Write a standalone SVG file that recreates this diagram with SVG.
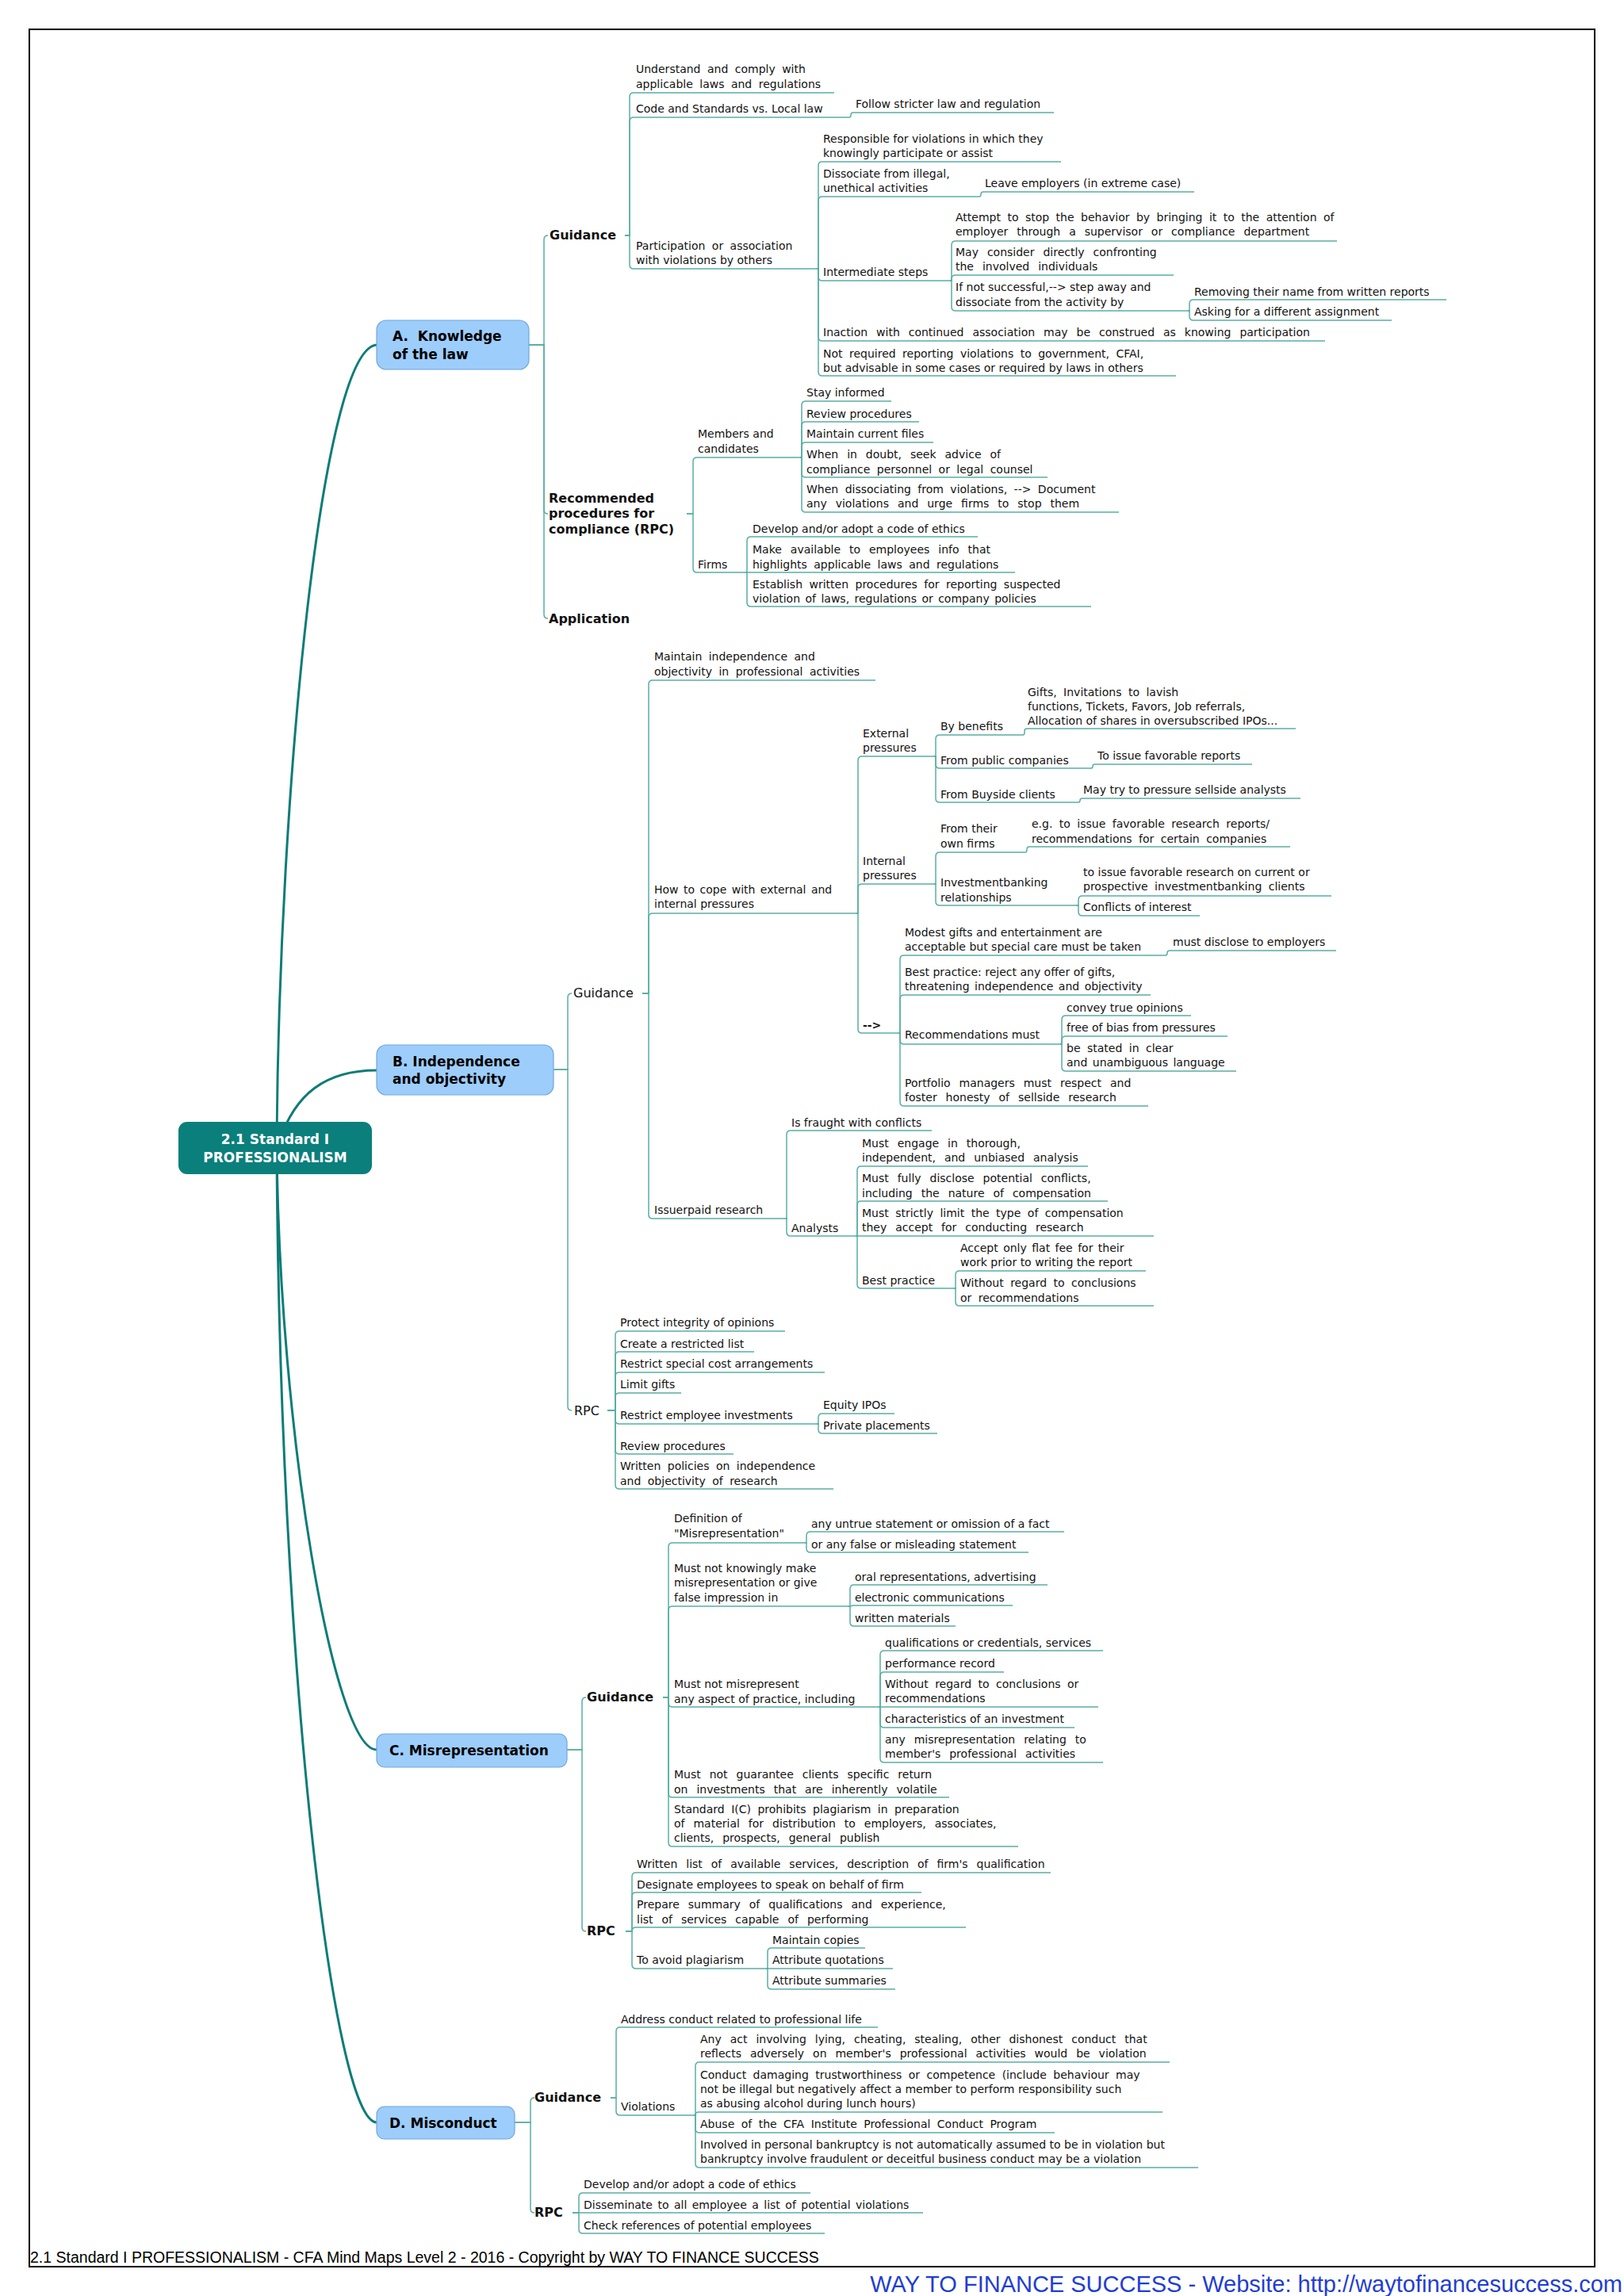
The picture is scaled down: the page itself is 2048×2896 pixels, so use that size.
<svg xmlns="http://www.w3.org/2000/svg" width="2048" height="2896" viewBox="0 0 2048 2896">
<style>
.t{font-family:"DejaVu Sans",Verdana,sans-serif;font-size:14px;fill:#111}
.b{font-weight:bold}
.h{font-size:16px}
.w2{word-spacing:2px}
.w4{word-spacing:4px}
.w6{word-spacing:6.5px}
.cn{fill:none;stroke:#5aaea3;stroke-width:1.5}
.mc{fill:none;stroke:#0d7c77;stroke-width:3;stroke-linecap:round}
.nd{fill:#9dcdfa;stroke:#6fa8dc;stroke-width:1.2}
.nt{font-family:"DejaVu Sans",Verdana,sans-serif;font-size:17px;font-weight:bold;fill:#000}
.ft{font-family:"Liberation Sans",Arial,sans-serif}
</style>
<rect x="0" y="0" width="2048" height="2896" fill="#fff"/>
<rect x="37" y="37" width="1974" height="2822" fill="none" stroke="#000" stroke-width="2"/>

<g id="connectors">
<g id="main-branches">
<path class="mc" d="M349,1440 C352,1000 405,440 475,435"/>
<path class="mc" d="M352,1440 C372,1380 410,1350 475,1350"/>
<path class="mc" d="M349,1447 C352,1800 420,2207 475,2207"/>
<path class="mc" d="M349,1447 C352,2100 420,2677 475,2677"/>
</g>
<g id="branch-a">
<path class="cn" d="M667,435 H686 V302 Q686,297 691,297"/>
<path class="cn" d="M667,435 H686 V643 Q686,648 691,648"/>
<path class="cn" d="M667,435 H686 V775 Q686,780 691,780"/>
<path class="cn" d="M788,297 H794 V122 Q794,117 799,117 H1052"/>
<path class="cn" d="M788,297 H794 V153 Q794,148 799,148 H1071"/>
<path class="cn" d="M788,297 H794 V334 Q794,339 799,339 H1030"/>
<path class="cn" d="M1071,148 Q1073,148 1073,145 Q1073,142 1076,142 H1329"/>
<path class="cn" d="M1030,339 H1032 V209 Q1032,204 1037,204 H1338"/>
<path class="cn" d="M1030,339 H1032 V253 Q1032,248 1037,248 H1235"/>
<path class="cn" d="M1030,339 H1032 V349 Q1032,354 1037,354 H1198"/>
<path class="cn" d="M1030,339 H1032 V425 Q1032,430 1037,430 H1671"/>
<path class="cn" d="M1030,339 H1032 V469 Q1032,474 1037,474 H1483"/>
<path class="cn" d="M1235,248 Q1237,248 1237,245 Q1237,242 1240,242 H1506"/>
<path class="cn" d="M1198,354 H1200 V309 Q1200,304 1205,304 H1686"/>
<path class="cn" d="M1198,354 H1200 V352 Q1200,347 1205,347 H1480"/>
<path class="cn" d="M1198,354 H1200 V387 Q1200,392 1205,392 H1498"/>
<path class="cn" d="M1498,392 H1500 V383 Q1500,378 1505,378 H1824"/>
<path class="cn" d="M1498,392 H1500 V399 Q1500,404 1505,404 H1755"/>
<path class="cn" d="M866,648 H874 V582 Q874,577 879,577 H1009"/>
<path class="cn" d="M866,648 H874 V717 Q874,722 879,722 H940"/>
<path class="cn" d="M1009,577 H1011 V511 Q1011,506 1016,506 H1124"/>
<path class="cn" d="M1009,577 H1011 V537 Q1011,532 1016,532 H1159"/>
<path class="cn" d="M1009,577 H1011 V563 Q1011,558 1016,558 H1177"/>
<path class="cn" d="M1009,577 H1011 V597 Q1011,602 1016,602 H1321"/>
<path class="cn" d="M1009,577 H1011 V641 Q1011,646 1016,646 H1411"/>
<path class="cn" d="M940,722 H942 V682 Q942,677 947,677 H1233"/>
<path class="cn" d="M940,722 H1280"/>
<path class="cn" d="M940,722 H942 V760 Q942,765 947,765 H1376"/>
</g>
<g id="branch-b">
<path class="cn" d="M698,1349 H716 V1258 Q716,1253 721,1253"/>
<path class="cn" d="M698,1349 H716 V1774 Q716,1779 721,1779"/>
<path class="cn" d="M810,1253 H818 V863 Q818,858 823,858 H1104"/>
<path class="cn" d="M810,1253 H818 V1157 Q818,1152 823,1152 H1080"/>
<path class="cn" d="M810,1253 H818 V1532 Q818,1537 823,1537 H990"/>
<path class="cn" d="M1080,1152 H1082 V959 Q1082,954 1087,954 H1178"/>
<path class="cn" d="M1080,1152 H1082 V1120 Q1082,1115 1087,1115 H1178"/>
<path class="cn" d="M1080,1152 H1082 V1298 Q1082,1303 1087,1303 H1133"/>
<path class="cn" d="M1178,954 H1180 V932 Q1180,927 1185,927 H1290"/>
<path class="cn" d="M1178,954 H1180 V964 Q1180,969 1185,969 H1376"/>
<path class="cn" d="M1178,954 H1180 V1007 Q1180,1012 1185,1012 H1360"/>
<path class="cn" d="M1290,927 Q1292,927 1292,924 V922 Q1292,919 1295,919 H1634"/>
<path class="cn" d="M1376,969 Q1378,969 1378,966.5 Q1378,964 1381,964 H1579"/>
<path class="cn" d="M1360,1012 Q1362,1012 1362,1009.5 Q1362,1007 1365,1007 H1640"/>
<path class="cn" d="M1178,1115 H1180 V1080 Q1180,1075 1185,1075 H1293"/>
<path class="cn" d="M1178,1115 H1180 V1137 Q1180,1142 1185,1142 H1357"/>
<path class="cn" d="M1293,1075 Q1295,1075 1295,1071.5 Q1295,1068 1298,1068 H1627"/>
<path class="cn" d="M1357,1142 H1360 V1135 Q1360,1130 1365,1130 H1679"/>
<path class="cn" d="M1357,1142 H1360 V1150 Q1360,1155 1365,1155 H1513"/>
<path class="cn" d="M1133,1303 H1135 V1210 Q1135,1205 1140,1205 H1470"/>
<path class="cn" d="M1133,1303 H1135 V1260 Q1135,1255 1140,1255 H1451"/>
<path class="cn" d="M1133,1303 H1135 V1312 Q1135,1317 1140,1317 H1337"/>
<path class="cn" d="M1133,1303 H1135 V1390 Q1135,1395 1140,1395 H1448"/>
<path class="cn" d="M1470,1205 Q1472,1205 1472,1202 Q1472,1199 1475,1199 H1685"/>
<path class="cn" d="M1337,1317 H1339 V1286 Q1339,1281 1344,1281 H1502"/>
<path class="cn" d="M1337,1317 H1339 V1312 Q1339,1307 1344,1307 H1548"/>
<path class="cn" d="M1337,1317 H1339 V1346 Q1339,1351 1344,1351 H1559"/>
<path class="cn" d="M990,1537 H992 V1431 Q992,1426 997,1426 H1175"/>
<path class="cn" d="M990,1537 H992 V1554 Q992,1559 997,1559 H1079"/>
<path class="cn" d="M1079,1559 H1081 V1476 Q1081,1471 1086,1471 H1372"/>
<path class="cn" d="M1079,1559 H1081 V1520 Q1081,1515 1086,1515 H1397"/>
<path class="cn" d="M1079,1559 H1455"/>
<path class="cn" d="M1079,1559 H1081 V1620 Q1081,1625 1086,1625 H1203"/>
<path class="cn" d="M1203,1625 H1205 V1608 Q1205,1603 1210,1603 H1445"/>
<path class="cn" d="M1203,1625 H1205 V1642 Q1205,1647 1210,1647 H1455"/>
<path class="cn" d="M766,1779 H776 V1684 Q776,1679 781,1679 H990"/>
<path class="cn" d="M766,1779 H776 V1710 Q776,1705 781,1705 H951"/>
<path class="cn" d="M766,1779 H776 V1736 Q776,1731 781,1731 H1040"/>
<path class="cn" d="M766,1779 H776 V1762 Q776,1757 781,1757 H859"/>
<path class="cn" d="M766,1779 H776 V1791 Q776,1796 781,1796 H1030"/>
<path class="cn" d="M766,1779 H776 V1829 Q776,1834 781,1834 H925"/>
<path class="cn" d="M766,1779 H776 V1873 Q776,1878 781,1878 H1051"/>
<path class="cn" d="M1030,1796 H1032 V1788 Q1032,1783 1037,1783 H1128"/>
<path class="cn" d="M1030,1796 H1032 V1803 Q1032,1808 1037,1808 H1182"/>
</g>
<g id="branch-c">
<path class="cn" d="M715,2207 H734 V2146 Q734,2141 739,2141"/>
<path class="cn" d="M715,2207 H734 V2431 Q734,2436 739,2436"/>
<path class="cn" d="M836,2141 H843 V1951 Q843,1946 848,1946 H1015"/>
<path class="cn" d="M836,2141 H843 V2031 Q843,2026 848,2026 H1070"/>
<path class="cn" d="M836,2141 H843 V2148 Q843,2153 848,2153 H1108"/>
<path class="cn" d="M836,2141 H843 V2262 Q843,2267 848,2267 H1197"/>
<path class="cn" d="M836,2141 H843 V2324 Q843,2329 848,2329 H1284"/>
<path class="cn" d="M1015,1946 H1017 V1937 Q1017,1932 1022,1932 H1342"/>
<path class="cn" d="M1015,1946 H1017 V1953 Q1017,1958 1022,1958 H1297"/>
<path class="cn" d="M1070,2026 H1072 V2004 Q1072,1999 1077,1999 H1321"/>
<path class="cn" d="M1070,2026 H1072 L1076,2025 H1277"/>
<path class="cn" d="M1070,2026 H1072 V2046 Q1072,2051 1077,2051 H1205"/>
<path class="cn" d="M1108,2153 H1110 V2087 Q1110,2082 1115,2082 H1391"/>
<path class="cn" d="M1108,2153 H1110 V2114 Q1110,2109 1115,2109 H1266"/>
<path class="cn" d="M1108,2153 H1385"/>
<path class="cn" d="M1108,2153 H1110 V2174 Q1110,2179 1115,2179 H1355"/>
<path class="cn" d="M1108,2153 H1110 V2218 Q1110,2223 1115,2223 H1391"/>
<path class="cn" d="M789,2436 H797 V2367 Q797,2362 802,2362 H1325"/>
<path class="cn" d="M789,2436 H797 V2392 Q797,2387 802,2387 H1162"/>
<path class="cn" d="M789,2436 H797 Q797,2431 802,2431 H1218"/>
<path class="cn" d="M789,2436 H797 V2478 Q797,2483 802,2483 H966"/>
<path class="cn" d="M966,2483 H968 V2462 Q968,2457 973,2457 H1091"/>
<path class="cn" d="M966,2483 H1126"/>
<path class="cn" d="M966,2483 H968 V2504 Q968,2509 973,2509 H1129"/>
</g>
<g id="branch-d">
<path class="cn" d="M649,2677 H669 V2651 Q669,2646 674,2646"/>
<path class="cn" d="M649,2677 H669 V2786 Q669,2791 674,2791"/>
<path class="cn" d="M770,2646 H777 V2562 Q777,2557 782,2557 H1107"/>
<path class="cn" d="M770,2646 H777 V2663 Q777,2668 782,2668 H875"/>
<path class="cn" d="M875,2668 H877 V2606 Q877,2601 882,2601 H1475"/>
<path class="cn" d="M875,2668 H877 Q877,2664 881,2664 H1466"/>
<path class="cn" d="M875,2668 H877 V2685 Q877,2690 882,2690 H1330"/>
<path class="cn" d="M875,2668 H877 V2729 Q877,2734 882,2734 H1511"/>
<path class="cn" d="M722,2791 H730 V2771 Q730,2766 735,2766 H1022"/>
<path class="cn" d="M722,2791 H1164"/>
<path class="cn" d="M722,2791 H730 V2812 Q730,2817 735,2817 H1040"/>
</g>
</g>

<g id="root">
<rect x="225" y="1415" width="244" height="66" rx="11" fill="#0b7f7b"/>
<text font-family="DejaVu Sans,Verdana,sans-serif" font-size="17" font-weight="bold" fill="#fff" text-anchor="middle"><tspan x="347" y="1443">2.1 Standard I</tspan><tspan x="347" y="1466">PROFESSIONALISM</tspan></text>
</g>
<g id="topic-a">
<rect class="nd" x="475" y="404" width="192" height="62" rx="12"/>
<text class="nt"><tspan x="495" y="430">A.&#160; Knowledge</tspan><tspan x="495" y="453">of the law</tspan></text>
</g>
<g id="topic-b">
<rect class="nd" x="475" y="1318" width="223" height="63" rx="12"/>
<text class="nt"><tspan x="495" y="1345">B. Independence</tspan><tspan x="495" y="1367">and objectivity</tspan></text>
</g>
<g id="topic-c">
<rect class="nd" x="475" y="2187" width="240" height="42" rx="10"/>
<text class="nt" x="491" y="2214">C. Misrepresentation</text>
</g>
<g id="topic-d">
<rect class="nd" x="475" y="2657" width="174" height="41" rx="10"/>
<text class="nt" x="491" y="2684">D. Misconduct</text>
</g>

<!-- Section A -->
<g id="a-guidance"><text class="t b h" x="693" y="302">Guidance</text></g>
<g id="a-rpc"><text class="t b h"><tspan x="692" y="634">Recommended</tspan><tspan x="692" y="653">procedures for</tspan><tspan x="692" y="673">compliance (RPC)</tspan></text></g>
<g id="a-application"><text class="t b h" x="692" y="786">Application</text></g>
<g id="a-g1"><text class="t w4"><tspan x="802" y="92">Understand and comply with</tspan><tspan x="802" y="111">applicable laws and regulations</tspan></text></g>
<g id="a-g2"><text class="t" x="802" y="142">Code and Standards vs. Local law</text></g>
<g id="a-g2a"><text class="t" x="1079" y="136">Follow stricter law and regulation</text></g>
<g id="a-g3"><text class="t"><tspan class="w4" x="802" y="315">Participation or association</tspan><tspan x="802" y="333">with violations by others</tspan></text></g>
<g id="a-g3a"><text class="t"><tspan x="1038" y="180">Responsible for violations in which they</tspan><tspan x="1038" y="198">knowingly participate or assist</tspan></text></g>
<g id="a-g3b"><text class="t"><tspan x="1038" y="224">Dissociate from illegal,</tspan><tspan x="1038" y="242">unethical activities</tspan></text></g>
<g id="a-g3b1"><text class="t" x="1242" y="236">Leave employers (in extreme case)</text></g>
<g id="a-g3c"><text class="t" x="1038" y="348">Intermediate steps</text></g>
<g id="a-g3c1"><text class="t"><tspan class="w4" x="1205" y="279">Attempt to stop the behavior by bringing it to the attention of</tspan><tspan class="w6" x="1205" y="297">employer through a supervisor or compliance department</tspan></text></g>
<g id="a-g3c2"><text class="t w6"><tspan x="1205" y="323">May consider directly confronting</tspan><tspan x="1205" y="341">the involved individuals</tspan></text></g>
<g id="a-g3c3"><text class="t"><tspan x="1205" y="367">If not successful,--&gt; step away and</tspan><tspan x="1205" y="386">dissociate from the activity by</tspan></text></g>
<g id="a-g3c3a"><text class="t" x="1506" y="373">Removing their name from written reports</text></g>
<g id="a-g3c3b"><text class="t" x="1506" y="398">Asking for a different assignment</text></g>
<g id="a-g3d"><text class="t w6" x="1038" y="424">Inaction with continued association may be construed as knowing participation</text></g>
<g id="a-g3e"><text class="t"><tspan class="w4" x="1038" y="451">Not required reporting violations to government, CFAI,</tspan><tspan x="1038" y="469">but advisable in some cases or required by laws in others</tspan></text></g>
<g id="a-r1"><text class="t"><tspan x="880" y="552">Members and</tspan><tspan x="880" y="571">candidates</tspan></text></g>
<g id="a-r1a"><text class="t" x="1017" y="500">Stay informed</text></g>
<g id="a-r1b"><text class="t" x="1017" y="527">Review procedures</text></g>
<g id="a-r1c"><text class="t" x="1017" y="552">Maintain current files</text></g>
<g id="a-r1d"><text class="t"><tspan class="w6" x="1017" y="578">When in doubt, seek advice of</tspan><tspan class="w4" x="1017" y="597">compliance personnel or legal counsel</tspan></text></g>
<g id="a-r1e"><text class="t"><tspan class="w4" x="1017" y="622">When dissociating from violations, --&gt; Document</tspan><tspan class="w6" x="1017" y="640">any violations and urge firms to stop them</tspan></text></g>
<g id="a-r2"><text class="t" x="880" y="717">Firms</text></g>
<g id="a-r2a"><text class="t" x="949" y="672">Develop and/or adopt a code of ethics</text></g>
<g id="a-r2b"><text class="t"><tspan class="w6" x="949" y="698">Make available to employees info that</tspan><tspan class="w4" x="949" y="717">highlights applicable laws and regulations</tspan></text></g>
<g id="a-r2c"><text class="t"><tspan class="w4" x="949" y="742">Establish written procedures for reporting suspected</tspan><tspan class="w2" x="949" y="760">violation of laws, regulations or company policies</tspan></text></g>

<!-- Section B -->
<g id="b-guidance"><text class="t h" x="723" y="1258">Guidance</text></g>
<g id="b-rpc"><text class="t h" x="724" y="1785">RPC</text></g>
<g id="b-g1"><text class="t w4"><tspan x="825" y="833">Maintain independence and</tspan><tspan x="825" y="852">objectivity in professional activities</tspan></text></g>
<g id="b-g2"><text class="t"><tspan class="w2" x="825" y="1127">How to cope with external and</tspan><tspan x="825" y="1145">internal pressures</tspan></text></g>
<g id="b-g2a"><text class="t"><tspan x="1088" y="930">External</tspan><tspan x="1088" y="948">pressures</tspan></text></g>
<g id="b-g2a1"><text class="t" x="1186" y="921">By benefits</text></g>
<g id="b-g2a1a"><text class="t"><tspan class="w4" x="1296" y="878">Gifts, Invitations to lavish</tspan><tspan x="1296" y="896">functions, Tickets, Favors, Job referrals,</tspan><tspan x="1296" y="914">Allocation of shares in oversubscribed IPOs...</tspan></text></g>
<g id="b-g2a2"><text class="t" x="1186" y="964">From public companies</text></g>
<g id="b-g2a2a"><text class="t" x="1384" y="958">To issue favorable reports</text></g>
<g id="b-g2a3"><text class="t" x="1186" y="1007">From Buyside clients</text></g>
<g id="b-g2a3a"><text class="t" x="1366" y="1001">May try to pressure sellside analysts</text></g>
<g id="b-g2b"><text class="t"><tspan x="1088" y="1091">Internal</tspan><tspan x="1088" y="1109">pressures</tspan></text></g>
<g id="b-g2b1"><text class="t"><tspan x="1186" y="1050">From their</tspan><tspan x="1186" y="1069">own firms</tspan></text></g>
<g id="b-g2b1a"><text class="t w4"><tspan x="1301" y="1044">e.g. to issue favorable research reports/</tspan><tspan x="1301" y="1063">recommendations for certain companies</tspan></text></g>
<g id="b-g2b2"><text class="t"><tspan x="1186" y="1118">Investmentbanking</tspan><tspan x="1186" y="1137">relationships</tspan></text></g>
<g id="b-g2b2a"><text class="t"><tspan x="1366" y="1105">to issue favorable research on current or</tspan><tspan class="w4" x="1366" y="1123">prospective investmentbanking clients</tspan></text></g>
<g id="b-g2b2b"><text class="t" x="1366" y="1149">Conflicts of interest</text></g>
<g id="b-g2c"><text class="t b" x="1088" y="1298">--&gt;</text></g>
<g id="b-g2c1"><text class="t"><tspan x="1141" y="1181">Modest gifts and entertainment are</tspan><tspan x="1141" y="1199">acceptable but special care must be taken</tspan></text></g>
<g id="b-g2c1a"><text class="t" x="1479" y="1193">must disclose to employers</text></g>
<g id="b-g2c2"><text class="t"><tspan x="1141" y="1231">Best practice: reject any offer of gifts,</tspan><tspan class="w2" x="1141" y="1249">threatening independence and objectivity</tspan></text></g>
<g id="b-g2c3"><text class="t" x="1141" y="1310">Recommendations must</text></g>
<g id="b-g2c3a"><text class="t" x="1345" y="1276">convey true opinions</text></g>
<g id="b-g2c3b"><text class="t" x="1345" y="1301">free of bias from pressures</text></g>
<g id="b-g2c3c"><text class="t"><tspan class="w4" x="1345" y="1327">be stated in clear</tspan><tspan class="w2" x="1345" y="1345">and unambiguous language</tspan></text></g>
<g id="b-g2c4"><text class="t w6"><tspan x="1141" y="1371">Portfolio managers must respect and</tspan><tspan x="1141" y="1389">foster honesty of sellside research</tspan></text></g>
<g id="b-g3"><text class="t" x="825" y="1531">Issuerpaid research</text></g>
<g id="b-g3a"><text class="t" x="998" y="1421">Is fraught with conflicts</text></g>
<g id="b-g3b"><text class="t" x="998" y="1554">Analysts</text></g>
<g id="b-g3b1"><text class="t w6"><tspan x="1087" y="1447">Must engage in thorough,</tspan><tspan x="1087" y="1465">independent, and unbiased analysis</tspan></text></g>
<g id="b-g3b2"><text class="t w6"><tspan x="1087" y="1491">Must fully disclose potential conflicts,</tspan><tspan x="1087" y="1510">including the nature of compensation</tspan></text></g>
<g id="b-g3b3"><text class="t"><tspan class="w4" x="1087" y="1535">Must strictly limit the type of compensation</tspan><tspan class="w6" x="1087" y="1553">they accept for conducting research</tspan></text></g>
<g id="b-g3b4"><text class="t" x="1087" y="1620">Best practice</text></g>
<g id="b-g3b4a"><text class="t"><tspan class="w2" x="1211" y="1579">Accept only flat fee for their</tspan><tspan x="1211" y="1597">work prior to writing the report</tspan></text></g>
<g id="b-g3b4b"><text class="t w4"><tspan x="1211" y="1623">Without regard to conclusions</tspan><tspan x="1211" y="1642">or recommendations</tspan></text></g>
<g id="b-r1"><text class="t" x="782" y="1673">Protect integrity of opinions</text></g>
<g id="b-r2"><text class="t" x="782" y="1700">Create a restricted list</text></g>
<g id="b-r3"><text class="t" x="782" y="1725">Restrict special cost arrangements</text></g>
<g id="b-r4"><text class="t" x="782" y="1751">Limit gifts</text></g>
<g id="b-r5"><text class="t" x="782" y="1790">Restrict employee investments</text></g>
<g id="b-r5a"><text class="t" x="1038" y="1777">Equity IPOs</text></g>
<g id="b-r5b"><text class="t" x="1038" y="1803">Private placements</text></g>
<g id="b-r6"><text class="t" x="782" y="1829">Review procedures</text></g>
<g id="b-r7"><text class="t w4"><tspan x="782" y="1854">Written policies on independence</tspan><tspan x="782" y="1873">and objectivity of research</tspan></text></g>

<!-- Section C -->
<g id="c-guidance"><text class="t b h" x="740" y="2146">Guidance</text></g>
<g id="c-rpc"><text class="t b h" x="740" y="2441">RPC</text></g>
<g id="c-g1"><text class="t"><tspan x="850" y="1920">Definition of</tspan><tspan x="850" y="1939">"Misrepresentation"</tspan></text></g>
<g id="c-g1a"><text class="t" x="1023" y="1927">any untrue statement or omission of a fact</text></g>
<g id="c-g1b"><text class="t" x="1023" y="1953">or any false or misleading statement</text></g>
<g id="c-g2"><text class="t"><tspan x="850" y="1983">Must not knowingly make</tspan><tspan x="850" y="2001">misrepresentation or give</tspan><tspan x="850" y="2020">false impression in</tspan></text></g>
<g id="c-g2a"><text class="t" x="1078" y="1994">oral representations, advertising</text></g>
<g id="c-g2b"><text class="t" x="1078" y="2020">electronic communications</text></g>
<g id="c-g2c"><text class="t" x="1078" y="2046">written materials</text></g>
<g id="c-g3"><text class="t"><tspan x="850" y="2129">Must not misrepresent</tspan><tspan x="850" y="2148">any aspect of practice, including</tspan></text></g>
<g id="c-g3a"><text class="t" x="1116" y="2077">qualifications or credentials, services</text></g>
<g id="c-g3b"><text class="t" x="1116" y="2103">performance record</text></g>
<g id="c-g3c"><text class="t"><tspan class="w4" x="1116" y="2129">Without regard to conclusions or</tspan><tspan x="1116" y="2147">recommendations</tspan></text></g>
<g id="c-g3d"><text class="t" x="1116" y="2173">characteristics of an investment</text></g>
<g id="c-g3e"><text class="t w6"><tspan x="1116" y="2199">any misrepresentation relating to</tspan><tspan x="1116" y="2217">member's professional activities</tspan></text></g>
<g id="c-g4"><text class="t w6"><tspan x="850" y="2243">Must not guarantee clients specific return</tspan><tspan x="850" y="2262">on investments that are inherently volatile</tspan></text></g>
<g id="c-g5"><text class="t"><tspan class="w4" x="850" y="2287">Standard I(C) prohibits plagiarism in preparation</tspan><tspan class="w6" x="850" y="2305">of material for distribution to employers, associates,</tspan><tspan class="w6" x="850" y="2323">clients, prospects, general publish</tspan></text></g>
<g id="c-r1"><text class="t w6" x="803" y="2356">Written list of available services, description of firm's qualification</text></g>
<g id="c-r2"><text class="t" x="803" y="2382">Designate employees to speak on behalf of firm</text></g>
<g id="c-r3"><text class="t w6"><tspan x="803" y="2407">Prepare summary of qualifications and experience,</tspan><tspan x="803" y="2426">list of services capable of performing</tspan></text></g>
<g id="c-r4"><text class="t" x="803" y="2477">To avoid plagiarism</text></g>
<g id="c-r4a"><text class="t" x="974" y="2452">Maintain copies</text></g>
<g id="c-r4b"><text class="t" x="974" y="2477">Attribute quotations</text></g>
<g id="c-r4c"><text class="t" x="974" y="2503">Attribute summaries</text></g>

<!-- Section D -->
<g id="d-guidance"><text class="t b h" x="674" y="2651">Guidance</text></g>
<g id="d-rpc"><text class="t b h" x="674" y="2796">RPC</text></g>
<g id="d-g1"><text class="t" x="783" y="2552">Address conduct related to professional life</text></g>
<g id="d-g2"><text class="t" x="783" y="2662">Violations</text></g>
<g id="d-g2a"><text class="t w6"><tspan x="883" y="2577">Any act involving lying, cheating, stealing, other dishonest conduct that</tspan><tspan x="883" y="2595">reflects adversely on member's professional activities would be violation</tspan></text></g>
<g id="d-g2b"><text class="t"><tspan class="w4" x="883" y="2622">Conduct damaging trustworthiness or competence (include behaviour may</tspan><tspan x="883" y="2640">not be illegal but negatively affect a member to perform responsibility such</tspan><tspan x="883" y="2658">as abusing alcohol during lunch hours)</tspan></text></g>
<g id="d-g2c"><text class="t w4" x="883" y="2684">Abuse of the CFA Institute Professional Conduct Program</text></g>
<g id="d-g2d"><text class="t"><tspan x="883" y="2710">Involved in personal bankruptcy is not automatically assumed to be in violation but</tspan><tspan x="883" y="2728">bankruptcy involve fraudulent or deceitful business conduct may be a violation</tspan></text></g>
<g id="d-r1"><text class="t" x="736" y="2760">Develop and/or adopt a code of ethics</text></g>
<g id="d-r2"><text class="t w2" x="736" y="2786">Disseminate to all employee a list of potential violations</text></g>
<g id="d-r3"><text class="t" x="736" y="2812">Check references of potential employees</text></g>

<g id="footer">
<text class="ft" x="38" y="2854" font-size="19.5" fill="#000">2.1 Standard I PROFESSIONALISM - CFA Mind Maps Level 2 - 2016 - Copyright by WAY TO FINANCE SUCCESS</text>
<text class="ft" x="2046" y="2891" font-size="29" fill="#1f3dd6" text-anchor="end">WAY TO FINANCE SUCCESS - Website: http://waytofinancesuccess.com</text>
</g>
</svg>
